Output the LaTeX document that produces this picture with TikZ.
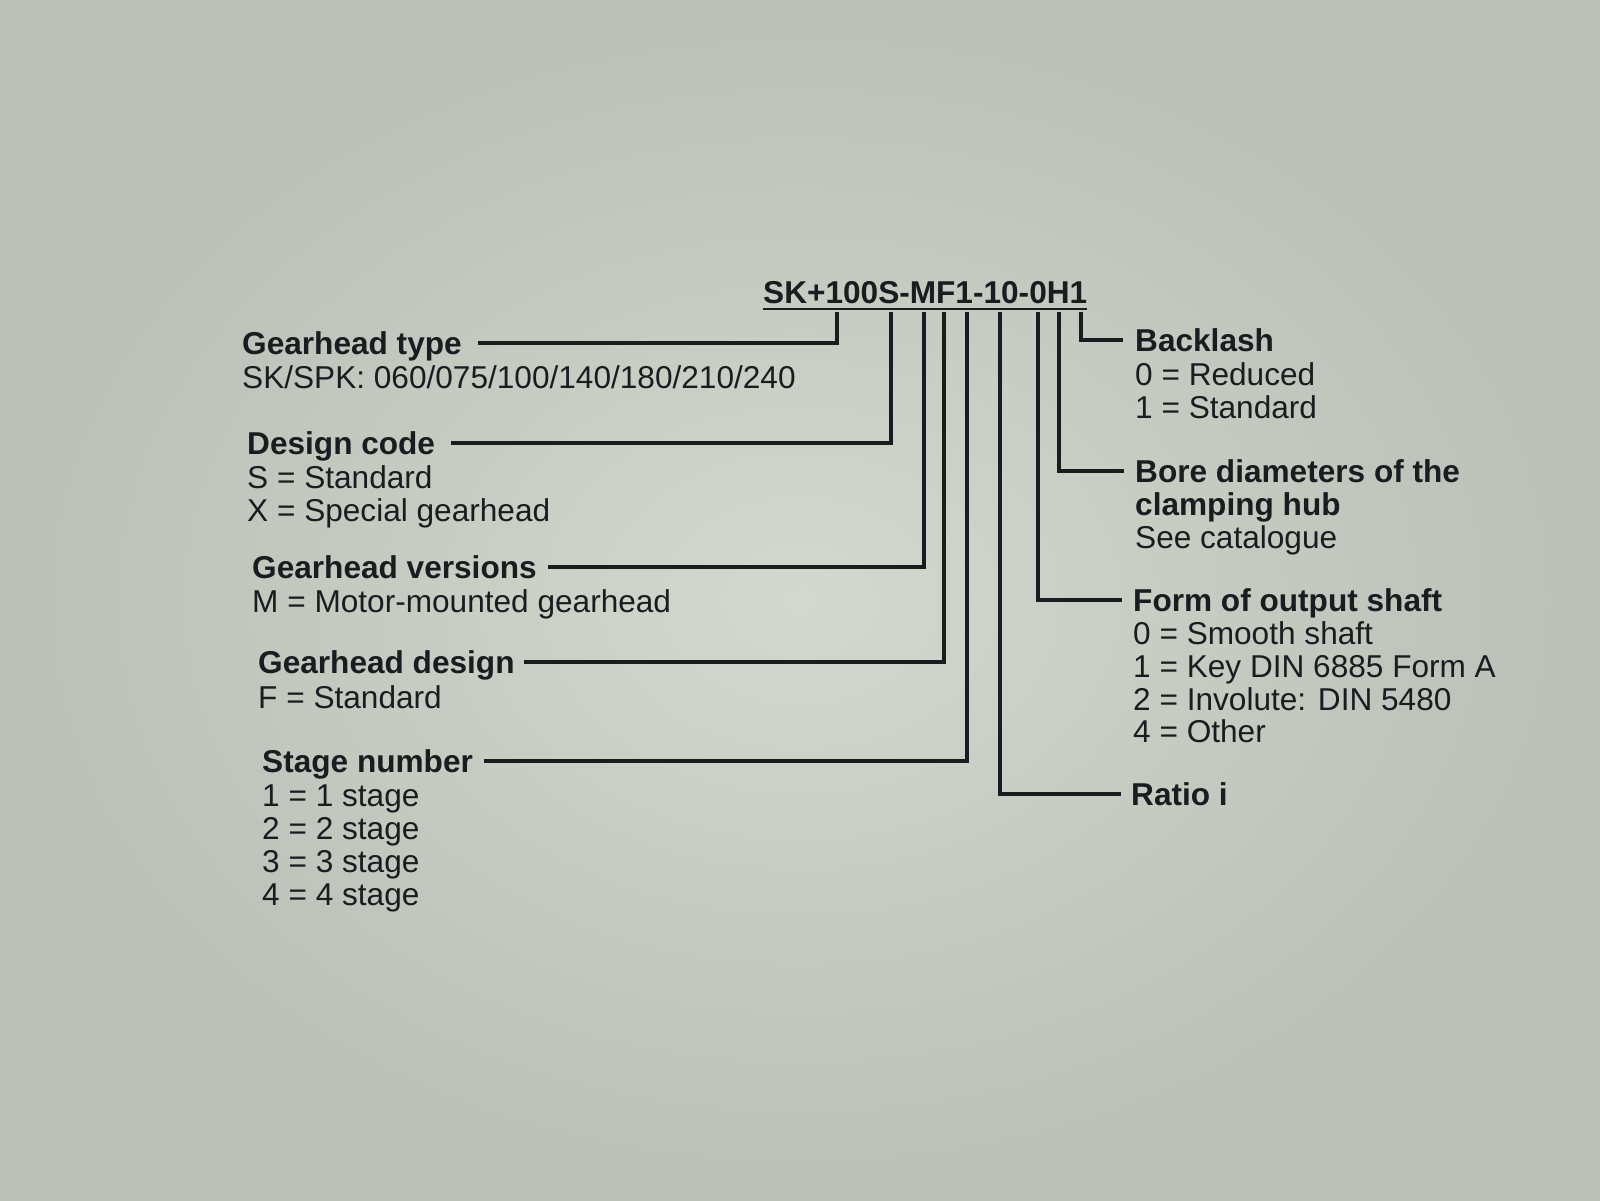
\documentclass[tikz,border=0pt]{standalone}
\usepackage{fontspec}
\setmainfont{Liberation Sans}
\usetikzlibrary{calc}
\definecolor{bg}{RGB}{212,217,207}
\definecolor{bgedge}{RGB}{186,191,183}
\definecolor{ink}{RGB}{26,28,32}
\begin{document}
\begin{tikzpicture}[x=1pt,y=-1pt,
  head/.style={anchor=base west,inner sep=0pt,font=\fontsize{31.6}{33}\selectfont\bfseries,text=ink},
  body/.style={anchor=base west,inner sep=0pt,font=\fontsize{31.6}{33}\selectfont,text=ink},
  conn/.style={draw=ink,line width=3.2pt}]
\useasboundingbox (0,0) rectangle (1600,1200);
\shade[inner color=bg,outer color=bgedge] (0,0) rectangle (1600,1200);

% title
\node[head] (title) at (763,303) {SK+100S-MF1-10-0H1};
\draw[ink,line width=2.5pt] ([yshift=-6pt]title.base west) -- ([yshift=-6pt]title.base east);

% junctions under the title
\coordinate (jt)  at (837,312);
\coordinate (jdc) at (891,312);
\coordinate (jgv) at (924,312);
\coordinate (jgd) at (944,312);
\coordinate (jsn) at (967,312);
\coordinate (jr)  at (1000,312);
\coordinate (jf)  at (1038,312);
\coordinate (jb)  at (1059,312);
\coordinate (jbl) at (1081,312);

% left column
\node[head] (gt)  at (242,354) {Gearhead type};
\node[body] (gt1) at (242,388) {SK/SPK: 060/075/100/140/180/210/240};

\node[head] (dc)  at (247,454) {Design code};
\node[body] (dc1) at (247,488) {S = Standard};
\node[body] (dc2) at (247,521) {X = Special gearhead};

\node[head] (gv)  at (252,578) {Gearhead versions};
\node[body] (gv1) at (252,612) {M = Motor-mounted gearhead};

\node[head] (gd)  at (258,673) {Gearhead design};
\node[body] (gd1) at (258,708) {F = Standard};

\node[head] (sn)  at (262,772) {Stage number};
\node[body] (sn1) at (262,806) {1 = 1 stage};
\node[body] (sn2) at (262,839) {2 = 2 stage};
\node[body] (sn3) at (262,872) {3 = 3 stage};
\node[body] (sn4) at (262,905) {4 = 4 stage};

% right column
\node[head] (bl)  at (1135,351) {Backlash};
\node[body] (bl1) at (1135,385) {0 = Reduced};
\node[body] (bl2) at (1135,418) {1 = Standard};

\node[head] (bd)  at (1135,482) {Bore diameters of the};
\node[head] (bd1) at (1135,515) {clamping hub};
\node[body] (bd2) at (1135,548) {See catalogue};

\node[head] (fo)  at (1133,611) {Form of output shaft};
\node[body] (fo1) at (1133,644) {0 = Smooth shaft};
\node[body] (fo2) at (1133,677) {1 = Key DIN 6885 Form A};
\node[body] (fo3) at (1133,710) {2 = Involute: DIN 5480};
\node[body] (fo4) at (1133,742) {4 = Other};

\node[head] (ra)  at (1131,805) {Ratio i};

% connectors, left
\draw[conn] ([xshift=16pt,yshift=11pt]gt.base east) -| (jt);
\draw[conn] ([xshift=16pt,yshift=11pt]dc.base east) -| (jdc);
\draw[conn] ([xshift=11pt,yshift=11pt]gv.base east) -| (jgv);
\draw[conn] ([xshift=9pt,yshift=11pt]gd.base east) -| (jgd);
\draw[conn] ([xshift=11pt,yshift=11pt]sn.base east) -| (jsn);

% connectors, right
\draw[conn] (jbl) |- ([xshift=-12pt,yshift=11pt]bl.base west);
\draw[conn] (jb)  |- ([xshift=-11pt,yshift=11pt]bd.base west);
\draw[conn] (jf)  |- ([xshift=-11pt,yshift=11pt]fo.base west);
\draw[conn] (jr)  |- ([xshift=-10pt,yshift=11pt]ra.base west);
\end{tikzpicture}
\end{document}
